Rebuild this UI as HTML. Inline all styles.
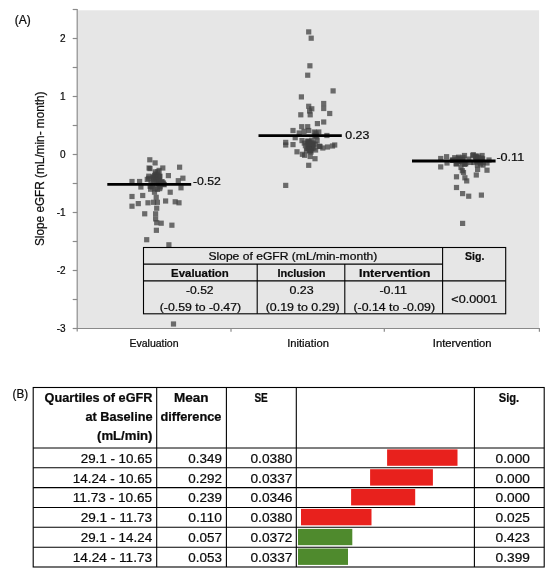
<!DOCTYPE html>
<html><head><meta charset="utf-8"><title>Slope of eGFR</title>
<style>
html,body{margin:0;padding:0;background:#fff;}
svg{display:block;font-family:"Liberation Sans",sans-serif;}
text{fill:#0a0a0a;stroke:#0a0a0a;stroke-width:0.22px;}
</style></head><body>
<svg width="550" height="574" viewBox="0 0 550 574">
<rect x="0" y="0" width="550" height="574" fill="#ffffff"/>
<!-- Panel A -->
<rect x="78" y="10.3" width="461.1" height="318.2" fill="#e6e6e6"/>
<g stroke="#8a8a8a" stroke-width="1.2" fill="none">
<line x1="77.2" y1="9" x2="77.2" y2="331.5"/>
<line x1="76.6" y1="328.5" x2="540" y2="328.5"/>
<line x1="72.7" y1="9.5" x2="77.2" y2="9.5"/>
<line x1="72.7" y1="38.5" x2="77.2" y2="38.5"/>
<line x1="72.7" y1="67.5" x2="77.2" y2="67.5"/>
<line x1="72.7" y1="96.5" x2="77.2" y2="96.5"/>
<line x1="72.7" y1="125.5" x2="77.2" y2="125.5"/>
<line x1="72.7" y1="154.5" x2="77.2" y2="154.5"/>
<line x1="72.7" y1="183.5" x2="77.2" y2="183.5"/>
<line x1="72.7" y1="212.5" x2="77.2" y2="212.5"/>
<line x1="72.7" y1="241.5" x2="77.2" y2="241.5"/>
<line x1="72.7" y1="270.5" x2="77.2" y2="270.5"/>
<line x1="72.7" y1="299.5" x2="77.2" y2="299.5"/>
<line x1="72.7" y1="328.5" x2="77.2" y2="328.5"/>
<line x1="231" y1="328.5" x2="231" y2="331.8"/>
<line x1="384.3" y1="328.5" x2="384.3" y2="331.8"/>
<line x1="539.4" y1="328.5" x2="539.4" y2="331.8"/>
</g>
<text x="14.8" y="23.5" textLength="16.0" lengthAdjust="spacingAndGlyphs" font-size="12.2">(A)</text>
<g font-size="10">
<text x="65.6" y="42.1" text-anchor="end">2</text>
<text x="65.6" y="100.1" text-anchor="end">1</text>
<text x="65.6" y="158.1" text-anchor="end">0</text>
<text x="65.6" y="216.1" text-anchor="end">-1</text>
<text x="65.6" y="274.1" text-anchor="end">-2</text>
<text x="65.6" y="332.1" text-anchor="end">-3</text>
</g>
<text transform="translate(44,246) rotate(-90)" font-size="12.2" textLength="154.5" lengthAdjust="spacingAndGlyphs">Slope eGFR (mL/min- month)</text>
<g font-size="10.3" stroke="none">
<text x="129.4" y="346.7" textLength="49.2" lengthAdjust="spacingAndGlyphs" fill="#484848">Evaluation</text>
<text x="287.2" y="346.7" textLength="41.7" lengthAdjust="spacingAndGlyphs" fill="#484848">Initiation</text>
<text x="432.8" y="346.7" textLength="58.8" lengthAdjust="spacingAndGlyphs" fill="#484848">Intervention</text>
</g>
<g fill="#404040" fill-opacity="0.75">
<rect x="147.2" y="157.2" width="5.2" height="5.2"/>
<rect x="152.5" y="160.3" width="5.2" height="5.2"/>
<rect x="177.0" y="164.6" width="5.2" height="5.2"/>
<rect x="165.8" y="173.0" width="5.2" height="5.2"/>
<rect x="180.3" y="175.6" width="5.2" height="5.2"/>
<rect x="175.7" y="178.1" width="5.2" height="5.2"/>
<rect x="129.4" y="178.9" width="5.2" height="5.2"/>
<rect x="137.0" y="178.9" width="5.2" height="5.2"/>
<rect x="144.7" y="176.8" width="5.2" height="5.2"/>
<rect x="138.3" y="184.4" width="5.2" height="5.2"/>
<rect x="178.4" y="185.2" width="5.2" height="5.2"/>
<rect x="167.6" y="189.6" width="5.2" height="5.2"/>
<rect x="129.4" y="193.9" width="5.2" height="5.2"/>
<rect x="140.1" y="192.9" width="5.2" height="5.2"/>
<rect x="135.7" y="201.0" width="5.2" height="5.2"/>
<rect x="129.4" y="203.6" width="5.2" height="5.2"/>
<rect x="145.4" y="200.2" width="5.2" height="5.2"/>
<rect x="151.0" y="199.7" width="5.2" height="5.2"/>
<rect x="154.8" y="199.7" width="5.2" height="5.2"/>
<rect x="163.0" y="198.4" width="5.2" height="5.2"/>
<rect x="172.6" y="199.2" width="5.2" height="5.2"/>
<rect x="176.4" y="200.2" width="5.2" height="5.2"/>
<rect x="153.6" y="194.7" width="5.2" height="5.2"/>
<rect x="154.1" y="205.6" width="5.2" height="5.2"/>
<rect x="142.1" y="211.2" width="5.2" height="5.2"/>
<rect x="153.0" y="211.2" width="5.2" height="5.2"/>
<rect x="153.0" y="216.3" width="5.2" height="5.2"/>
<rect x="154.1" y="220.1" width="5.2" height="5.2"/>
<rect x="158.6" y="220.6" width="5.2" height="5.2"/>
<rect x="169.3" y="222.6" width="5.2" height="5.2"/>
<rect x="153.8" y="227.7" width="5.2" height="5.2"/>
<rect x="144.1" y="237.1" width="5.2" height="5.2"/>
<rect x="166.3" y="242.2" width="5.2" height="5.2"/>
<rect x="170.9" y="321.4" width="5.2" height="5.2"/>
<rect x="153.6" y="181.4" width="5.2" height="5.2"/>
<rect x="153.7" y="175.8" width="5.2" height="5.2"/>
<rect x="150.7" y="176.4" width="5.2" height="5.2"/>
<rect x="159.5" y="180.8" width="5.2" height="5.2"/>
<rect x="159.2" y="179.6" width="5.2" height="5.2"/>
<rect x="156.4" y="179.2" width="5.2" height="5.2"/>
<rect x="147.5" y="183.7" width="5.2" height="5.2"/>
<rect x="156.9" y="181.3" width="5.2" height="5.2"/>
<rect x="147.4" y="166.0" width="5.2" height="5.2"/>
<rect x="150.9" y="174.7" width="5.2" height="5.2"/>
<rect x="156.0" y="177.6" width="5.2" height="5.2"/>
<rect x="156.9" y="173.5" width="5.2" height="5.2"/>
<rect x="156.0" y="180.6" width="5.2" height="5.2"/>
<rect x="151.9" y="189.6" width="5.2" height="5.2"/>
<rect x="157.1" y="186.0" width="5.2" height="5.2"/>
<rect x="152.0" y="172.9" width="5.2" height="5.2"/>
<rect x="153.2" y="177.2" width="5.2" height="5.2"/>
<rect x="157.4" y="179.6" width="5.2" height="5.2"/>
<rect x="152.8" y="171.4" width="5.2" height="5.2"/>
<rect x="152.5" y="186.2" width="5.2" height="5.2"/>
<rect x="151.2" y="179.6" width="5.2" height="5.2"/>
<rect x="156.5" y="167.8" width="5.2" height="5.2"/>
<rect x="154.9" y="186.8" width="5.2" height="5.2"/>
<rect x="146.0" y="175.7" width="5.2" height="5.2"/>
<rect x="154.2" y="172.3" width="5.2" height="5.2"/>
<rect x="156.8" y="177.5" width="5.2" height="5.2"/>
<rect x="148.4" y="183.5" width="5.2" height="5.2"/>
<rect x="157.6" y="184.3" width="5.2" height="5.2"/>
<rect x="160.9" y="180.4" width="5.2" height="5.2"/>
<rect x="155.2" y="169.1" width="5.2" height="5.2"/>
<rect x="157.3" y="173.7" width="5.2" height="5.2"/>
<rect x="152.8" y="169.3" width="5.2" height="5.2"/>
<rect x="150.5" y="174.3" width="5.2" height="5.2"/>
<rect x="160.2" y="165.4" width="5.2" height="5.2"/>
<rect x="148.4" y="179.5" width="5.2" height="5.2"/>
<rect x="160.9" y="181.8" width="5.2" height="5.2"/>
<rect x="146.5" y="165.4" width="5.2" height="5.2"/>
<rect x="156.2" y="172.9" width="5.2" height="5.2"/>
<rect x="149.9" y="184.5" width="5.2" height="5.2"/>
<rect x="159.4" y="179.0" width="5.2" height="5.2"/>
<rect x="155.8" y="180.9" width="5.2" height="5.2"/>
<rect x="161.6" y="182.1" width="5.2" height="5.2"/>
<rect x="156.9" y="181.6" width="5.2" height="5.2"/>
<rect x="148.0" y="186.6" width="5.2" height="5.2"/>
<rect x="158.8" y="181.5" width="5.2" height="5.2"/>
<rect x="146.2" y="173.6" width="5.2" height="5.2"/>
<rect x="306.1" y="29.3" width="5.2" height="5.2"/>
<rect x="308.6" y="35.6" width="5.2" height="5.2"/>
<rect x="307.3" y="63.2" width="5.2" height="5.2"/>
<rect x="305.1" y="72.6" width="5.2" height="5.2"/>
<rect x="330.5" y="88.3" width="5.2" height="5.2"/>
<rect x="298.8" y="94.3" width="5.2" height="5.2"/>
<rect x="321.1" y="100.9" width="5.2" height="5.2"/>
<rect x="321.1" y="105.9" width="5.2" height="5.2"/>
<rect x="306.1" y="103.7" width="5.2" height="5.2"/>
<rect x="309.2" y="106.2" width="5.2" height="5.2"/>
<rect x="307.0" y="108.4" width="5.2" height="5.2"/>
<rect x="327.1" y="110.9" width="5.2" height="5.2"/>
<rect x="298.2" y="112.2" width="5.2" height="5.2"/>
<rect x="307.6" y="112.2" width="5.2" height="5.2"/>
<rect x="321.1" y="119.4" width="5.2" height="5.2"/>
<rect x="314.8" y="121.0" width="5.2" height="5.2"/>
<rect x="299.1" y="124.1" width="5.2" height="5.2"/>
<rect x="305.1" y="124.1" width="5.2" height="5.2"/>
<rect x="290.4" y="127.9" width="5.2" height="5.2"/>
<rect x="296.6" y="130.4" width="5.2" height="5.2"/>
<rect x="301.4" y="128.8" width="5.2" height="5.2"/>
<rect x="306.1" y="127.9" width="5.2" height="5.2"/>
<rect x="313.3" y="130.4" width="5.2" height="5.2"/>
<rect x="324.3" y="132.9" width="5.2" height="5.2"/>
<rect x="292.6" y="135.1" width="5.2" height="5.2"/>
<rect x="283.1" y="139.8" width="5.2" height="5.2"/>
<rect x="283.1" y="142.4" width="5.2" height="5.2"/>
<rect x="290.4" y="142.0" width="5.2" height="5.2"/>
<rect x="332.1" y="142.4" width="5.2" height="5.2"/>
<rect x="324.9" y="144.4" width="5.2" height="5.2"/>
<rect x="320.2" y="145.4" width="5.2" height="5.2"/>
<rect x="294.4" y="149.2" width="5.2" height="5.2"/>
<rect x="299.8" y="151.7" width="5.2" height="5.2"/>
<rect x="307.6" y="153.9" width="5.2" height="5.2"/>
<rect x="312.4" y="156.1" width="5.2" height="5.2"/>
<rect x="306.1" y="162.7" width="5.2" height="5.2"/>
<rect x="283.1" y="182.8" width="5.2" height="5.2"/>
<rect x="329.9" y="143.4" width="5.2" height="5.2"/>
<rect x="311.7" y="129.4" width="5.2" height="5.2"/>
<rect x="307.1" y="148.5" width="5.2" height="5.2"/>
<rect x="302.0" y="152.7" width="5.2" height="5.2"/>
<rect x="310.4" y="140.3" width="5.2" height="5.2"/>
<rect x="309.4" y="145.9" width="5.2" height="5.2"/>
<rect x="308.4" y="149.4" width="5.2" height="5.2"/>
<rect x="304.9" y="138.5" width="5.2" height="5.2"/>
<rect x="312.6" y="141.6" width="5.2" height="5.2"/>
<rect x="303.9" y="148.0" width="5.2" height="5.2"/>
<rect x="314.5" y="138.3" width="5.2" height="5.2"/>
<rect x="301.7" y="140.5" width="5.2" height="5.2"/>
<rect x="307.2" y="139.3" width="5.2" height="5.2"/>
<rect x="314.2" y="134.2" width="5.2" height="5.2"/>
<rect x="313.6" y="132.5" width="5.2" height="5.2"/>
<rect x="304.4" y="145.8" width="5.2" height="5.2"/>
<rect x="313.0" y="147.4" width="5.2" height="5.2"/>
<rect x="309.5" y="142.4" width="5.2" height="5.2"/>
<rect x="308.6" y="145.4" width="5.2" height="5.2"/>
<rect x="307.1" y="143.3" width="5.2" height="5.2"/>
<rect x="310.5" y="141.4" width="5.2" height="5.2"/>
<rect x="311.3" y="145.4" width="5.2" height="5.2"/>
<rect x="316.9" y="143.7" width="5.2" height="5.2"/>
<rect x="306.0" y="138.8" width="5.2" height="5.2"/>
<rect x="307.8" y="147.9" width="5.2" height="5.2"/>
<rect x="306.4" y="144.1" width="5.2" height="5.2"/>
<rect x="316.2" y="129.4" width="5.2" height="5.2"/>
<rect x="302.8" y="143.1" width="5.2" height="5.2"/>
<rect x="309.7" y="143.1" width="5.2" height="5.2"/>
<rect x="306.0" y="146.0" width="5.2" height="5.2"/>
<rect x="309.2" y="137.7" width="5.2" height="5.2"/>
<rect x="317.4" y="143.9" width="5.2" height="5.2"/>
<rect x="305.4" y="140.7" width="5.2" height="5.2"/>
<rect x="306.9" y="141.0" width="5.2" height="5.2"/>
<rect x="299.4" y="138.0" width="5.2" height="5.2"/>
<rect x="312.4" y="133.2" width="5.2" height="5.2"/>
<rect x="307.6" y="148.1" width="5.2" height="5.2"/>
<rect x="438.1" y="155.9" width="5.2" height="5.2"/>
<rect x="444.0" y="154.1" width="5.2" height="5.2"/>
<rect x="438.1" y="164.3" width="5.2" height="5.2"/>
<rect x="444.4" y="160.4" width="5.2" height="5.2"/>
<rect x="470.7" y="152.1" width="5.2" height="5.2"/>
<rect x="486.4" y="157.4" width="5.2" height="5.2"/>
<rect x="484.4" y="160.4" width="5.2" height="5.2"/>
<rect x="484.4" y="167.6" width="5.2" height="5.2"/>
<rect x="475.0" y="166.8" width="5.2" height="5.2"/>
<rect x="459.7" y="168.1" width="5.2" height="5.2"/>
<rect x="473.7" y="172.4" width="5.2" height="5.2"/>
<rect x="453.9" y="174.2" width="5.2" height="5.2"/>
<rect x="462.3" y="175.2" width="5.2" height="5.2"/>
<rect x="464.1" y="178.3" width="5.2" height="5.2"/>
<rect x="453.9" y="184.9" width="5.2" height="5.2"/>
<rect x="460.0" y="191.0" width="5.2" height="5.2"/>
<rect x="466.1" y="193.6" width="5.2" height="5.2"/>
<rect x="478.8" y="192.5" width="5.2" height="5.2"/>
<rect x="460.0" y="220.8" width="5.2" height="5.2"/>
<rect x="458.4" y="164.9" width="5.2" height="5.2"/>
<rect x="460.9" y="169.9" width="5.2" height="5.2"/>
<rect x="454.7" y="158.4" width="5.2" height="5.2"/>
<rect x="473.9" y="154.9" width="5.2" height="5.2"/>
<rect x="459.8" y="158.8" width="5.2" height="5.2"/>
<rect x="480.4" y="162.5" width="5.2" height="5.2"/>
<rect x="476.3" y="159.6" width="5.2" height="5.2"/>
<rect x="472.7" y="153.7" width="5.2" height="5.2"/>
<rect x="456.5" y="155.7" width="5.2" height="5.2"/>
<rect x="450.3" y="157.7" width="5.2" height="5.2"/>
<rect x="450.3" y="157.6" width="5.2" height="5.2"/>
<rect x="471.2" y="159.9" width="5.2" height="5.2"/>
<rect x="479.5" y="152.9" width="5.2" height="5.2"/>
<rect x="480.5" y="159.9" width="5.2" height="5.2"/>
<rect x="479.5" y="156.8" width="5.2" height="5.2"/>
<rect x="456.5" y="159.3" width="5.2" height="5.2"/>
<rect x="455.6" y="159.0" width="5.2" height="5.2"/>
<rect x="477.8" y="161.4" width="5.2" height="5.2"/>
<rect x="475.9" y="154.4" width="5.2" height="5.2"/>
<rect x="474.6" y="158.5" width="5.2" height="5.2"/>
<rect x="452.1" y="155.1" width="5.2" height="5.2"/>
<rect x="474.0" y="153.4" width="5.2" height="5.2"/>
<rect x="473.0" y="156.4" width="5.2" height="5.2"/>
<rect x="474.3" y="158.2" width="5.2" height="5.2"/>
<rect x="459.9" y="160.1" width="5.2" height="5.2"/>
<rect x="461.9" y="152.9" width="5.2" height="5.2"/>
<rect x="462.0" y="161.8" width="5.2" height="5.2"/>
<rect x="454.8" y="156.7" width="5.2" height="5.2"/>
<rect x="453.4" y="161.2" width="5.2" height="5.2"/>
<rect x="474.8" y="162.4" width="5.2" height="5.2"/>
<rect x="454.0" y="161.2" width="5.2" height="5.2"/>
<rect x="470.1" y="152.9" width="5.2" height="5.2"/>
<rect x="460.4" y="156.7" width="5.2" height="5.2"/>
<rect x="449.8" y="157.6" width="5.2" height="5.2"/>
<rect x="480.0" y="156.2" width="5.2" height="5.2"/>
<rect x="478.8" y="155.5" width="5.2" height="5.2"/>
<rect x="463.1" y="161.2" width="5.2" height="5.2"/>
<rect x="456.0" y="154.6" width="5.2" height="5.2"/>
<rect x="457.3" y="157.5" width="5.2" height="5.2"/>
<rect x="467.9" y="159.8" width="5.2" height="5.2"/>
<rect x="457.6" y="156.8" width="5.2" height="5.2"/>
<rect x="478.1" y="158.6" width="5.2" height="5.2"/>
<rect x="460.5" y="154.8" width="5.2" height="5.2"/>
<rect x="477.9" y="158.9" width="5.2" height="5.2"/>
<rect x="462.6" y="160.6" width="5.2" height="5.2"/>
<rect x="466.2" y="156.5" width="5.2" height="5.2"/>
</g>
<g stroke="#000" stroke-width="2.9">
<line x1="107.3" y1="184.35" x2="191.2" y2="184.35"/>
<line x1="258.5" y1="135.6" x2="341.8" y2="135.6"/>
<line x1="412" y1="161" x2="495.6" y2="161"/>
</g>
<g font-size="11.3">
<text x="192.9" y="184.8" textLength="28.0" lengthAdjust="spacingAndGlyphs">-0.52</text>
<text x="345.3" y="138.5" textLength="24.0" lengthAdjust="spacingAndGlyphs">0.23</text>
<text x="496.4" y="161.3" textLength="27.8" lengthAdjust="spacingAndGlyphs">-0.11</text>
</g>
<!-- inner table -->
<g stroke="#000" stroke-width="1.1" fill="none">
<rect x="143.5" y="247.5" width="362.2" height="66.3"/>
<line x1="143.5" y1="264.1" x2="442.6" y2="264.1"/>
<line x1="143.5" y1="280.9" x2="505.7" y2="280.9"/>
<line x1="257.2" y1="264.1" x2="257.2" y2="313.8"/>
<line x1="344.8" y1="264.1" x2="344.8" y2="313.8"/>
<line x1="442.6" y1="247.5" x2="442.6" y2="313.8"/>
</g>
<g font-size="10.9">
<text x="208.4" y="260.0" textLength="168.9" lengthAdjust="spacingAndGlyphs">Slope of eGFR (mL/min-month)</text>
<text x="171.1" y="277.0" textLength="57.7" lengthAdjust="spacingAndGlyphs" font-weight="bold">Evaluation</text>
<text x="277.4" y="277.0" textLength="48.2" lengthAdjust="spacingAndGlyphs" font-weight="bold">Inclusion</text>
<text x="359.0" y="277.0" textLength="71.5" lengthAdjust="spacingAndGlyphs" font-weight="bold">Intervention</text>
<text x="465.1" y="260.0" textLength="19.3" lengthAdjust="spacingAndGlyphs" font-weight="bold">Sig.</text>
<text x="186.0" y="294.0" textLength="27.6" lengthAdjust="spacingAndGlyphs">-0.52</text>
<text x="159.7" y="310.6" textLength="81.5" lengthAdjust="spacingAndGlyphs">(-0.59 to -0.47)</text>
<text x="289.5" y="294.0" textLength="24.2" lengthAdjust="spacingAndGlyphs">0.23</text>
<text x="265.7" y="310.6" textLength="73.9" lengthAdjust="spacingAndGlyphs">(0.19 to 0.29)</text>
<text x="379.4" y="294.0" textLength="27.6" lengthAdjust="spacingAndGlyphs">-0.11</text>
<text x="353.5" y="310.6" textLength="81.5" lengthAdjust="spacingAndGlyphs">(-0.14 to -0.09)</text>
<text x="451.3" y="302.9" textLength="45.9" lengthAdjust="spacingAndGlyphs">&lt;0.0001</text>
</g>
<!-- Panel B -->
<text x="12.6" y="398.2" textLength="15.5" lengthAdjust="spacingAndGlyphs" font-size="12.2">(B)</text>
<g stroke="#000" stroke-width="1.1" fill="none">
<rect x="33.2" y="387.5" width="511" height="179.5"/>
<line x1="33.2" y1="448" x2="544.2" y2="448"/>
<line x1="33.2" y1="467.7" x2="544.2" y2="467.7"/>
<line x1="33.2" y1="487.6" x2="544.2" y2="487.6"/>
<line x1="33.2" y1="507.5" x2="544.2" y2="507.5"/>
<line x1="33.2" y1="527.3" x2="544.2" y2="527.3"/>
<line x1="33.2" y1="547.2" x2="544.2" y2="547.2"/>
<line x1="156.7" y1="387.5" x2="156.7" y2="567"/>
<line x1="226.4" y1="387.5" x2="226.4" y2="567"/>
<line x1="296.3" y1="387.5" x2="296.3" y2="567"/>
<line x1="474.4" y1="387.5" x2="474.4" y2="567"/>
</g>
<g fill="#e8211d">
<rect x="387.1" y="449.4" width="70.4" height="16.4"/>
<rect x="370.1" y="469.2" width="62.8" height="16.4"/>
<rect x="351.1" y="489" width="64.1" height="16.4"/>
<rect x="301" y="508.9" width="70.5" height="16.4"/>
</g>
<g fill="#4f8a2d">
<rect x="298" y="528.9" width="54.3" height="16.3"/>
<rect x="298" y="548.5" width="50" height="16.4"/>
</g>
<g font-size="12.2" font-weight="bold">
<text x="44.5" y="402.0" textLength="108.0" lengthAdjust="spacingAndGlyphs">Quartiles of eGFR</text>
<text x="85.4" y="420.9" textLength="67.1" lengthAdjust="spacingAndGlyphs">at Baseline</text>
<text x="97.0" y="439.6" textLength="55.5" lengthAdjust="spacingAndGlyphs">(mL/min)</text>
<text x="174.0" y="401.6" textLength="34.6" lengthAdjust="spacingAndGlyphs">Mean</text>
<text x="160.4" y="420.7" textLength="61.0" lengthAdjust="spacingAndGlyphs">difference</text>
<text x="254.4" y="401.6" textLength="13.4" lengthAdjust="spacingAndGlyphs">SE</text>
<text x="498.7" y="401.6" textLength="20.5" lengthAdjust="spacingAndGlyphs">Sig.</text>
</g>
<g font-size="13.1">
<text x="80.7" y="462.8" textLength="71.4" lengthAdjust="spacingAndGlyphs">29.1 - 10.65</text>
<text x="188.3" y="462.8" textLength="33.6" lengthAdjust="spacingAndGlyphs">0.349</text>
<text x="250.5" y="462.8" textLength="41.9" lengthAdjust="spacingAndGlyphs">0.0380</text>
<text x="495.6" y="462.8" textLength="34.3" lengthAdjust="spacingAndGlyphs">0.000</text>
<text x="72.8" y="482.6" textLength="79.3" lengthAdjust="spacingAndGlyphs">14.24 - 10.65</text>
<text x="188.3" y="482.6" textLength="33.6" lengthAdjust="spacingAndGlyphs">0.292</text>
<text x="250.5" y="482.6" textLength="41.9" lengthAdjust="spacingAndGlyphs">0.0337</text>
<text x="495.6" y="482.6" textLength="34.3" lengthAdjust="spacingAndGlyphs">0.000</text>
<text x="72.8" y="502.4" textLength="79.3" lengthAdjust="spacingAndGlyphs">11.73 - 10.65</text>
<text x="188.3" y="502.4" textLength="33.6" lengthAdjust="spacingAndGlyphs">0.239</text>
<text x="250.5" y="502.4" textLength="41.9" lengthAdjust="spacingAndGlyphs">0.0346</text>
<text x="495.6" y="502.4" textLength="34.3" lengthAdjust="spacingAndGlyphs">0.000</text>
<text x="80.7" y="522.4" textLength="71.4" lengthAdjust="spacingAndGlyphs">29.1 - 11.73</text>
<text x="188.3" y="522.4" textLength="33.6" lengthAdjust="spacingAndGlyphs">0.110</text>
<text x="250.5" y="522.4" textLength="41.9" lengthAdjust="spacingAndGlyphs">0.0380</text>
<text x="495.6" y="522.4" textLength="34.3" lengthAdjust="spacingAndGlyphs">0.025</text>
<text x="80.7" y="542.2" textLength="71.4" lengthAdjust="spacingAndGlyphs">29.1 - 14.24</text>
<text x="188.3" y="542.2" textLength="33.6" lengthAdjust="spacingAndGlyphs">0.057</text>
<text x="250.5" y="542.2" textLength="41.9" lengthAdjust="spacingAndGlyphs">0.0372</text>
<text x="495.6" y="542.2" textLength="34.3" lengthAdjust="spacingAndGlyphs">0.423</text>
<text x="72.8" y="562.2" textLength="79.3" lengthAdjust="spacingAndGlyphs">14.24 - 11.73</text>
<text x="188.3" y="562.2" textLength="33.6" lengthAdjust="spacingAndGlyphs">0.053</text>
<text x="250.5" y="562.2" textLength="41.9" lengthAdjust="spacingAndGlyphs">0.0337</text>
<text x="495.6" y="562.2" textLength="34.3" lengthAdjust="spacingAndGlyphs">0.399</text>
</g>
</svg>
</body></html>
